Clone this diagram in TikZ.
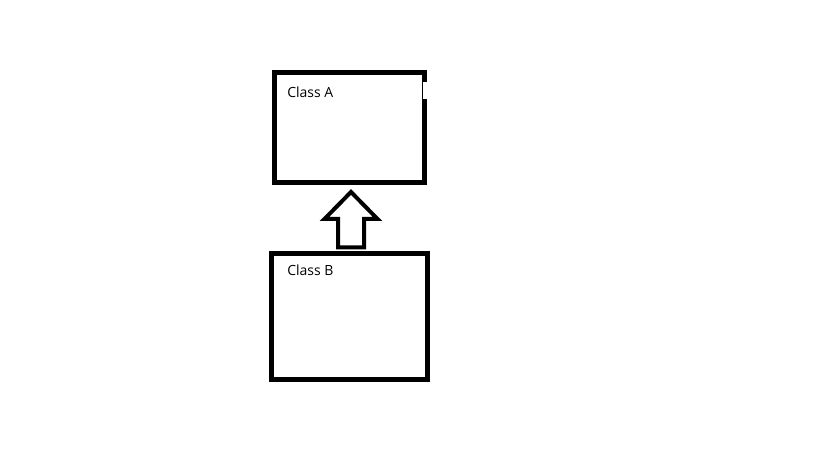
\documentclass[tikz,border=0pt]{standalone}
\usepackage{fontspec}
\setmainfont{Open Sans}
\begin{document}
\begin{tikzpicture}[x=0.75pt,y=-0.75pt,
  boxline/.style={draw=black,line width=3.75pt,fill=white},
  lbl/.style={anchor=base west,inner sep=0pt,font=\fontsize{10.5pt}{12pt}\selectfont}]
\useasboundingbox[fill=white] (0,0) rectangle (819,460);
\draw[boxline] (274.5,72.5) rectangle (424.5,183);
\fill[white] (423,82.5) rectangle (428,99);
\draw[boxline] (271.5,254) rectangle (427.5,379.5);
\draw[line width=3pt,fill=white,line join=miter]
  (351,192) -- (377.5,219) -- (364,219) -- (364,247.5) -- (338,247.5) -- (338,219) -- (324.5,219) -- cycle;
\node[lbl] (a) at (287,98) {Class A};
\node[lbl] (b) at (287,276) {Class B};
\end{tikzpicture}
\end{document}
